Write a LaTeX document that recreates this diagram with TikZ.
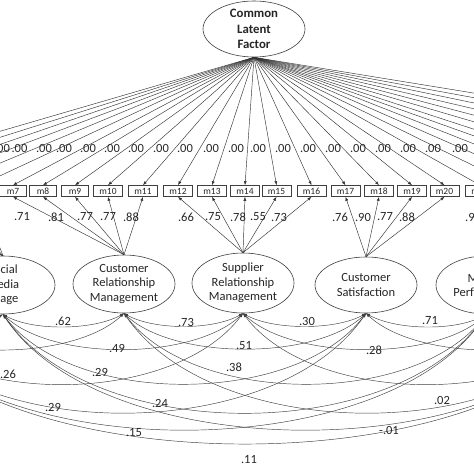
\documentclass[tikz,border=0pt]{standalone}
\usepackage{fontspec}
\setmainfont{Carlito}
\usetikzlibrary{arrows.meta,shapes.geometric}
\begin{document}
\begin{tikzpicture}[x=1pt,y=-1pt,
  lat/.style={ellipse,draw=black!75,line width=0.6pt,inner sep=0pt,align=center,font=\fontsize{12.5}{14.5}\selectfont,text=black!85},
  obs/.style={rectangle,draw=black!75,line width=0.6pt,minimum width=29pt,minimum height=11pt,inner sep=0pt,font=\fontsize{9.5}{9.5}\selectfont,text=black!85},
  ld/.style={draw=black!80,line width=0.45pt,-{Latex[length=4pt,width=3pt]}},
  cov/.style={draw=black!75,line width=0.45pt,{Latex[length=4pt,width=3pt]}-{Latex[length=4pt,width=3pt]}},
  num/.style={font=\fontsize{12.5}{13}\selectfont,text=black!85,inner sep=0pt}]
\useasboundingbox (0,0) rectangle (474,474);
\clip (0,0) rectangle (474,474);
\fill[white] (0,0) rectangle (474,474);

% common latent factor
\node[lat,minimum width=102pt,minimum height=56pt,font=\fontsize{12.8}{15.5}\selectfont\bfseries] (clf) at (254,29) {Common\\Latent\\Factor};

% latent constructs
\node[lat,minimum width=104pt,minimum height=58pt] (smu) at (3,285) {Social\\Media\\Usage};
\node[lat,minimum width=102pt,minimum height=58pt] (crm) at (124,284) {Customer\\Relationship\\Management};
\node[lat,minimum width=102pt,minimum height=60pt] (srm) at (243,283) {Supplier\\Relationship\\Management};
\node[lat,minimum width=102pt,minimum height=56pt] (cs) at (366,285) {Customer\\Satisfaction};
\node[lat,minimum width=100pt,minimum height=58pt] (mp) at (486,285) {Market\\Performance};
\coordinate (Lm) at (-116,315);
\coordinate (Rm) at (606,315);

% indicators
\foreach \n/\x in {1/-185,2/-152,3/-119,4/-86,5/-53,6/-20,
  12/178,13/212,14/245,15/276.5,16/311.5,17/345.5,18/379,19/412,20/444.5,
  21/480,22/513,23/546,24/579,25/612,26/645,27/690,28/740,29/800,30/870,
  31/950,32/1040}
  \node[obs] (m\n) at (\x,191) {m\n};
\node[obs,minimum width=27pt] (m7) at (13,191) {m7};
\node[obs,minimum width=27pt] (m8) at (43,191) {m8};
\node[obs,minimum width=27pt] (m9) at (75,191) {m9};
\node[obs] (m10) at (108,191) {m10};
\node[obs] (m11) at (143,191) {m11};

% common method paths
\foreach \n in {1,...,32} \draw[ld] (clf.south) -- (m\n.north);
\foreach \x [count=\i] in {2,19.5,44,64,88,112,136,161,185,211,236,258,283,308,333,358,383,408,433,460}
  \node[num] (z\i) at (\x,148) {.00};

% loadings
\foreach \n in {1,...,6} \draw[ld] (smu.north) -- (m\n.south);
\foreach \n in {7,...,11} \draw[ld] (crm.north) -- (m\n.south);
\foreach \n in {12,...,16} \draw[ld] (srm.north) -- (m\n.south);
\foreach \n in {17,...,20} \draw[ld] (cs.north) -- (m\n.south);
\foreach \n in {21,...,25} \draw[ld] (mp.north) -- (m\n.south);
\node[num] (l7) at (22,217) {.71};
\node[num] (l8) at (56,217) {.81};
\node[num] (l9) at (85,217) {.77};
\node[num] (l10) at (108,217) {.77};
\node[num] (l11) at (131,217) {.88};
\node[num] (l12) at (186,217) {.66};
\node[num] (l13) at (213,217) {.75};
\node[num] (l14) at (238,217) {.78};
\node[num] (l15) at (258,217) {.55};
\node[num] (l16) at (279,217) {.73};
\node[num] (l17) at (340,217) {.76};
\node[num] (l18) at (363,217) {.90};
\node[num] (l19) at (385,217) {.77};
\node[num] (l20) at (407,217) {.88};
\node[num,anchor=west] (l21) at (465,217) {.9};

% covariances
\draw[cov] (Lm) .. controls +(30,17) and +(-30,17) .. (smu.south);
\draw[cov] (smu.south) .. controls +(30,17) and +(-30,17) .. (crm.south);
\draw[cov] (crm.south) .. controls +(30,17) and +(-30,17) .. (srm.south);
\draw[cov] (srm.south) .. controls +(30,17) and +(-30,17) .. (cs.south);
\draw[cov] (cs.south) .. controls +(30,17) and +(-30,17) .. (mp.south);
\draw[cov] (mp.south) .. controls +(30,17) and +(-30,17) .. (Rm);

\draw[cov] (Lm) .. controls +(50,47) and +(-50,47) .. (crm.south);
\draw[cov] (smu.south) .. controls +(50,47) and +(-50,47) .. (srm.south);
\draw[cov] (crm.south) .. controls +(50,47) and +(-50,47) .. (cs.south);
\draw[cov] (srm.south) .. controls +(50,47) and +(-50,47) .. (mp.south);
\draw[cov] (cs.south) .. controls +(50,47) and +(-50,47) .. (Rm);

\draw[cov] (Lm) .. controls +(70,93) and +(-70,93) .. (srm.south);
\draw[cov] (smu.south) .. controls +(70,93) and +(-70,93) .. (cs.south);
\draw[cov] (crm.south) .. controls +(70,93) and +(-70,93) .. (mp.south);
\draw[cov] (srm.south) .. controls +(70,93) and +(-70,93) .. (Rm);

\draw[cov] (Lm) .. controls +(90,131) and +(-90,131) .. (cs.south);
\draw[cov] (smu.south) .. controls +(90,131) and +(-90,131) .. (mp.south);
\draw[cov] (crm.south) .. controls +(90,131) and +(-90,131) .. (Rm);

\draw[cov] (Lm) .. controls +(100,153) and +(-100,153) .. (mp.south);
\draw[cov] (smu.south) .. controls +(100,153) and +(-100,153) .. (Rm);

\draw[cov] (Lm) .. controls +(110,171) and +(-110,171) .. (Rm);

\node[num] (c1) at (63,321) {.62};
\node[num] (c2) at (186,322) {.73};
\node[num] (c3) at (307,321) {.30};
\node[num] (c4) at (430,321) {.71};
\node[num] (c5) at (117,348) {.49};
\node[num] (c6) at (244,346) {.51};
\node[num] (c7) at (374,350) {.28};
\node[num] (c8) at (8,374) {.26};
\node[num] (c9) at (100,372) {.29};
\node[num] (c10) at (234,367) {.38};
\node[num] (c11) at (53,407) {.29};
\node[num] (c12) at (160,403) {.24};
\node[num] (c13) at (442,400) {.02};
\node[num] (c14) at (134,433) {.15};
\node[num] (c15) at (389,430) {-.01};
\node[num] (c16) at (249,460) {.11};
\end{tikzpicture}
\end{document}
